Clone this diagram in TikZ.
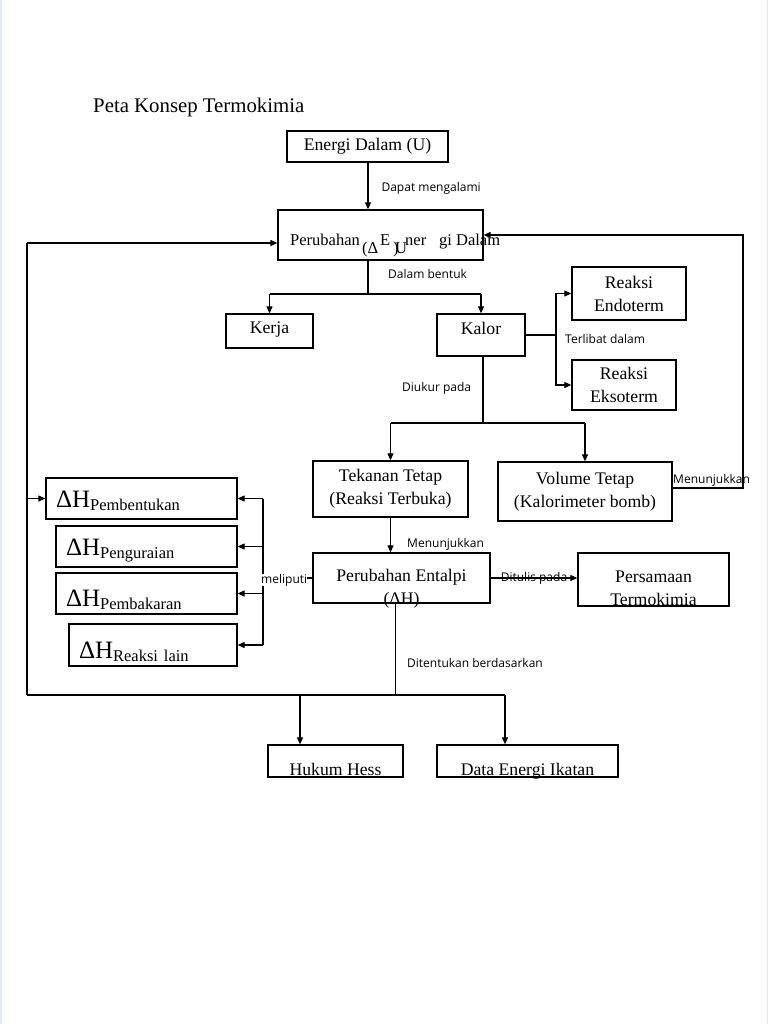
\documentclass[tikz,border=0pt]{standalone}
\usepackage{fontspec}
\setmainfont{Liberation Serif}
\newfontfamily\labelfont{Open Sans}
\usetikzlibrary{arrows.meta,calc}

\definecolor{pagerand}{RGB}{226,232,244}

\newcommand{\kotakfont}{\fontsize{17.7}{23}\selectfont}
\newcommand{\dH}[1]{{\fontsize{25}{25}\selectfont ΔH}\raisebox{-3pt}{\fontsize{16.5}{16.5}\selectfont #1}}

\begin{document}
\begin{tikzpicture}[x=1pt,y=-1pt,
	kotak/.style={draw, line width=1.3pt, font=\kotakfont, align=center, inner sep=0pt},
	teks/.style={font=\kotakfont, align=center, inner sep=0pt},
	pecah/.style={font=\fontsize{16.5}{20}\selectfont, inner sep=0pt, anchor=base west},
	ket/.style={font=\labelfont\fontsize{12}{14}\selectfont, inner sep=0pt, anchor=west},
	panah/.style={-{Triangle[length=7pt,width=6pt]}, line width=1.1pt},
	garis/.style={line width=1.1pt},
	dhkotak/.style={kotak, align=left, inner xsep=10pt, inner ysep=0pt, text depth=0pt}]
	
	\fill[pagerand] (0,0) rectangle (1.5,1024);
	\fill[pagerand] (766.5,0) rectangle (768,1024);
	\useasboundingbox (0,0) rectangle (768,1024);
	
	% judul
	\node[anchor=base west, inner sep=0pt, font=\fontsize{20.8}{24}\selectfont] (judul) at (93,113) {Peta Konsep Termokimia};
	
	% kotak atas
	\node[kotak, minimum width=161pt, minimum height=31pt] (energi) at (367.5,146.5) {Energi Dalam (U)};
	\node[kotak, minimum width=205pt, minimum height=50pt] (perubahan) at (380.5,235) {};
	\node[pecah] (perA) at (290,245) {Perubahan};
	\node[pecah] (perB) at (362,253) {(Δ};
	\node[pecah] (perC) at (380,245) {E};
	\node[pecah] (perD) at (393,253) {)};
	\node[pecah] (perE) at (395,253) {U};
	\node[pecah] (perF) at (405,245) {ner};
	\node[pecah] (perG) at (439,245) {gi Dalam};
	
	\node[kotak, minimum width=87pt, minimum height=34pt, text height=12pt, text depth=8pt] (kerja) at (269.5,331) {Kerja};
	\node[kotak, minimum width=88pt, minimum height=42pt, text height=12pt, text depth=14pt] (kalor) at (481,335) {Kalor};
	\node[kotak, minimum width=114pt, minimum height=53pt] (endo) at (629,293.5) {Reaksi\\Endoterm};
	\node[kotak, minimum width=104pt, minimum height=50pt] (ekso) at (624,385) {Reaksi\\Eksoterm};
	
	\node[kotak, minimum width=155pt, minimum height=56pt] (tekanan) at (390.5,489) {Tekanan Tetap\\(Reaksi Terbuka)};
	\node[kotak, minimum width=174pt, minimum height=59pt] (volume) at (585,491.5) {Volume Tetap\\(Kalorimeter bomb)};
	
	\node[kotak, minimum width=177pt, minimum height=50pt,
		label={[teks, yshift=-10.5pt]center:{Perubahan Entalpi\\(ΔH)}}] (entalpi) at (401.5,578) {};
	\node[kotak, minimum width=151pt, minimum height=53pt,
		label={[teks, yshift=-9pt]center:{Persamaan\\Termokimia}}] (persamaan) at (653.5,579.5) {};
	
	% kotak delta H
	\node[dhkotak, minimum width=191pt, minimum height=41pt, text width=171pt, text height=17pt] (pembentukan) at (141.5,498.5) {\dH{Pembentukan}};
	\node[dhkotak, minimum width=181pt, minimum height=41pt, text width=161pt, text height=17pt] (penguraian) at (146.5,546.5) {\dH{Penguraian}};
	\node[dhkotak, minimum width=181pt, minimum height=41pt, text width=161pt, text height=26pt] (pembakaran) at (146.5,593.5) {\dH{Pembakaran}};
	\node[dhkotak, minimum width=168pt, minimum height=42pt, text width=148pt, text height=26pt] (reaksilain) at (153,645) {\dH{Reaksi lain}};
	
	% kotak bawah
	\node[kotak, minimum width=135pt, minimum height=32pt, text height=28pt, text depth=0pt] (hess) at (335.5,761) {Hukum Hess};
	\node[kotak, minimum width=181pt, minimum height=32pt, text height=28pt, text depth=0pt] (data) at (527.5,761) {Data Energi Ikatan};
	
	% titik cabang
	\coordinate (jA) at (368,294);
	\coordinate (jB) at (556,335);
	\coordinate (jC) at (483,423);
	\coordinate (kanan) at (743,488);
	\coordinate (jE) at (263,580);
	\coordinate (jF) at (395,695);
	\coordinate (kiri) at (27,695);
	\coordinate (kiriatas) at (27,243);
	\coordinate (hessx) at (300,695);
	\coordinate (datax) at (505,695);
	
	% panah
	\draw[panah] (energi.south -| jA) -- (perubahan.north -| jA) node[ket, pos=0.55, xshift=13pt] {Dapat mengalami};
	
	\draw[garis] (perubahan.south -| jA) -- (jA);
	\draw[garis] (jA -| kerja.north) -- (jA -| kalor.north);
	\draw[panah] (jA -| kerja.north) -- (kerja.north);
	\draw[panah] (jA -| kalor.north) -- (kalor.north);
	\node[ket] (kDalam) at (388,274) {Dalam bentuk};
	
	\draw[garis] (kalor.east) -- (jB);
	\draw[panah] (jB) |- (endo.west);
	\draw[panah] (jB) |- (ekso.west);
	\node[ket] (kTerlibat) at (565,339) {Terlibat dalam};
	
	\draw[garis] (kalor.south -| jC) -- (jC);
	\draw[garis] (jC -| tekanan.north) -- (jC -| volume.north);
	\draw[panah] (jC -| tekanan.north) -- (tekanan.north);
	\draw[panah] (jC -| volume.north) -- (volume.north);
	\node[ket] (kDiukur) at (402,388) {Diukur pada};
	
	\draw[panah] (volume.east |- kanan) -- (kanan) -- (kanan |- perubahan.east) -- (perubahan.east);
	\node[ket, anchor=south west] (kMenunjuk1) at (673,487) {Menunjukkan};
	
	\draw[panah] (tekanan.south) -- (tekanan.south |- entalpi.north);
	\node[ket] (kMenunjuk2) at (407,544) {Menunjukkan};
	
	\draw[panah] (entalpi.east) -- (entalpi.east -| persamaan.west) node[ket, anchor=center, pos=0.5] {Ditulis pada};
	
	\draw[garis] (entalpi.west) -- (entalpi.west -| jE);
	\draw[garis] (jE |- pembentukan.east) -- (jE |- reaksilain.east);
	\foreach \b in {pembentukan,penguraian,pembakaran,reaksilain}
		\draw[panah] (jE |- \b.east) -- (\b.east);
	\node[ket, fill=white] (kMeliputi) at (261,580) {meliputi};
	
	\draw[line width=1pt] (jF |- entalpi.south) -- (jF);
	\node[ket] (kDitentukan) at (407,663) {Ditentukan berdasarkan};
	\draw[line width=1.5pt] (kiri) -- (datax);
	\draw[panah] (hessx) -- (hessx |- hess.north);
	\draw[panah] (datax) -- (datax |- data.north);
	\draw[line width=2pt] (kiri) -- (kiriatas);
	\draw[panah] (kiriatas) -- (kiriatas -| perubahan.west);
	\draw[panah] (kiri |- pembentukan.west) -- (pembentukan.west);
	
\end{tikzpicture}
\end{document}
